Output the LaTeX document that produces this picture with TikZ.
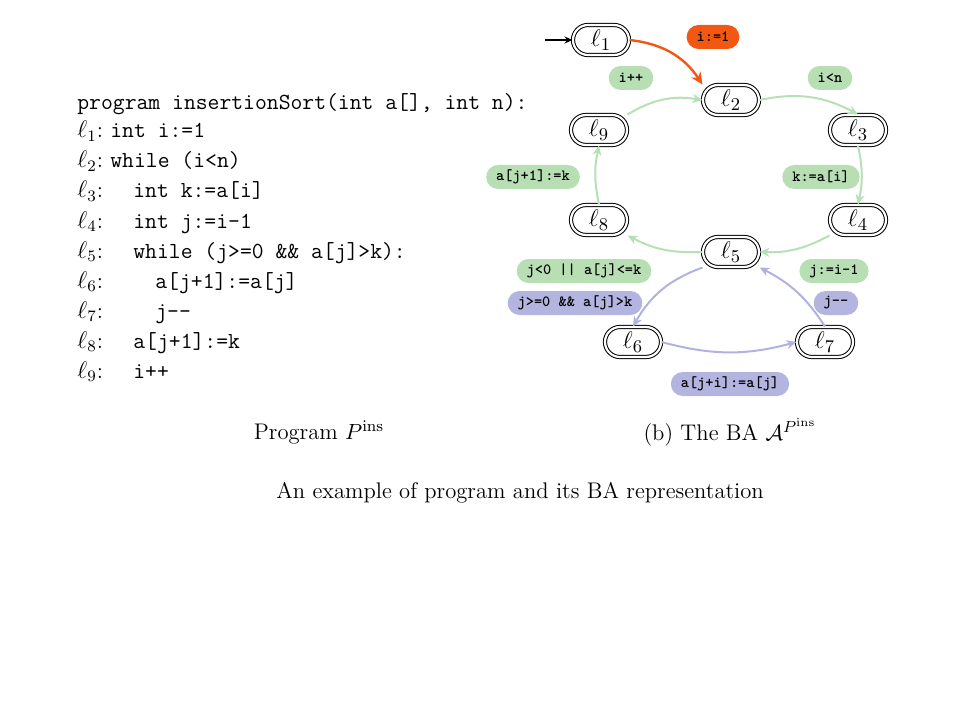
\documentclass[tikz,border=0pt]{standalone}
\usetikzlibrary{arrows.meta}
\definecolor{orng}{RGB}{242,88,20}
\definecolor{grnfill}{RGB}{184,222,180}
\definecolor{grnline}{RGB}{182,224,182}
\definecolor{purfill}{RGB}{180,180,224}
\definecolor{purline}{RGB}{178,178,226}
\tikzset{
  state/.style={draw, double, double distance=1.1pt, line width=0.5pt, rounded corners=7.5pt,
    minimum width=28pt, minimum height=15pt, inner sep=1pt, font=\fontsize{12.5}{14}\selectfont},
  lbl/.style={rounded corners=6pt, minimum height=12pt, inner xsep=5pt, inner ysep=1pt,
    font=\fontsize{7.8}{9}\selectfont\ttfamily\bfseries},
  glbl/.style={lbl, fill=grnfill},
  plbl/.style={lbl, fill=purfill},
  olbl/.style={lbl, fill=orng},
  garr/.style={draw=grnline, line width=1pt, -{Stealth[length=5pt,width=4.5pt]}},
  parr/.style={draw=purline, line width=1pt, -{Stealth[length=5pt,width=4.5pt]}},
  codetxt/.style={anchor=base west, inner sep=0pt, font=\fontsize{11.5}{14}\selectfont\ttfamily},
  labtxt/.style={anchor=base west, inner sep=0pt, font=\fontsize{11.5}{14}\selectfont},
  captxt/.style={inner sep=0pt, font=\fontsize{11.3}{13}\selectfont}
}
\begin{document}
\begin{tikzpicture}[x=0.5pt,y=-0.5pt]
\useasboundingbox (0,0) rectangle (975,706);
% code
\node[codetxt] (c0) at (77,110) {program insertionSort(int a[], int n):};
\node[labtxt] (l1) at (77,138) {$\ell_1$:};
\node[codetxt] (c1) at (110,138) {int i:=1};
\node[labtxt] (l2) at (77,168) {$\ell_2$:};
\node[codetxt] (c2) at (110,168) {while (i<n)};
\node[labtxt] (l3) at (77,198) {$\ell_3$:};
\node[codetxt] (c3) at (133,198) {int k:=a[i]};
\node[labtxt] (l4) at (77,228) {$\ell_4$:};
\node[codetxt] (c4) at (133,228) {int j:=i-1};
\node[labtxt] (l5) at (77,258) {$\ell_5$:};
\node[codetxt] (c5) at (133,258) {while (j>=0 \&\& a[j]>k):};
\node[labtxt] (l6) at (77,288) {$\ell_6$:};
\node[codetxt] (c6) at (155,288) {a[j+1]:=a[j]};
\node[labtxt] (l7) at (77,318) {$\ell_7$:};
\node[codetxt] (c7) at (155,318) {j--};
\node[labtxt] (l8) at (77,348) {$\ell_8$:};
\node[codetxt] (c8) at (133,348) {a[j+1]:=k};
\node[labtxt] (l9) at (77,378) {$\ell_9$:};
\node[codetxt] (c9) at (133,378) {i++};
% captions
\node[captxt] (capa) at (319,432) {Program $P^{\mathrm{ins}}$};
\node[captxt] (capb) at (730,432) {(b) The BA $\mathcal{A}^{P^{\mathrm{ins}}}$};
\node[captxt] (capc) at (520,493) {An example of program and its BA representation};
% states
\node[state] (s1) at (601,40) {$\ell_1$};
\node[state] (s2) at (731,100) {$\ell_2$};
\node[state] (s3) at (858,130) {$\ell_3$};
\node[state] (s4) at (858,220) {$\ell_4$};
\node[state] (s5) at (731,252) {$\ell_5$};
\node[state] (s6) at (633,342) {$\ell_6$};
\node[state] (s7) at (825,342) {$\ell_7$};
\node[state] (s8) at (599,220) {$\ell_8$};
\node[state] (s9) at (599,130) {$\ell_9$};
% labels
\node[olbl] (e1) at (713,37) {i:=1};
\node[glbl] (e2) at (631,78) {i++};
\node[glbl] (e3) at (830,78) {i<n};
\node[glbl] (e4) at (533,177) {a[j+1]:=k};
\node[glbl] (e5) at (821,177) {k:=a[i]};
\node[glbl] (e6) at (584,271) {j<0 || a[j]<=k};
\node[glbl] (e7) at (834,271) {j:=i-1};
\node[plbl] (e8) at (575,303) {j>=0 \&\& a[j]>k};
\node[plbl] (e9) at (836,303) {j--};
\node[plbl] (e10) at (730,384) {a[j+i]:=a[j]};
% edges
\coordinate (init) at (545,40);
\draw[line width=0.6pt, -{Stealth[length=4pt,width=3.5pt]}] (init) -- (s1.west);
\draw[draw=orng, line width=1.2pt, -{Stealth[length=6pt,width=5.5pt]}] (s1.east) to[bend left=25] (s2.north west);
\draw[garr] (s9.north east) to[bend left=20] (s2.west);
\draw[garr] (s2.east) to[bend left=20] (s3.north);
\draw[garr] (s3.south) to[bend left=12] (s4.north);
\draw[garr] (s4.south west) to[bend left=15] (s5.east);
\draw[garr] (s5.west) to[bend left=15] (s8.south east);
\draw[garr] (s8.north) to[bend left=12] (s9.south);
\draw[parr] (s5.south west) to[bend right=20] (s6.north);
\draw[parr] (s6.east) to[bend right=15] (s7.west);
\draw[parr] (s7.north) to[bend right=15] (s5.south east);
\end{tikzpicture}
\end{document}
